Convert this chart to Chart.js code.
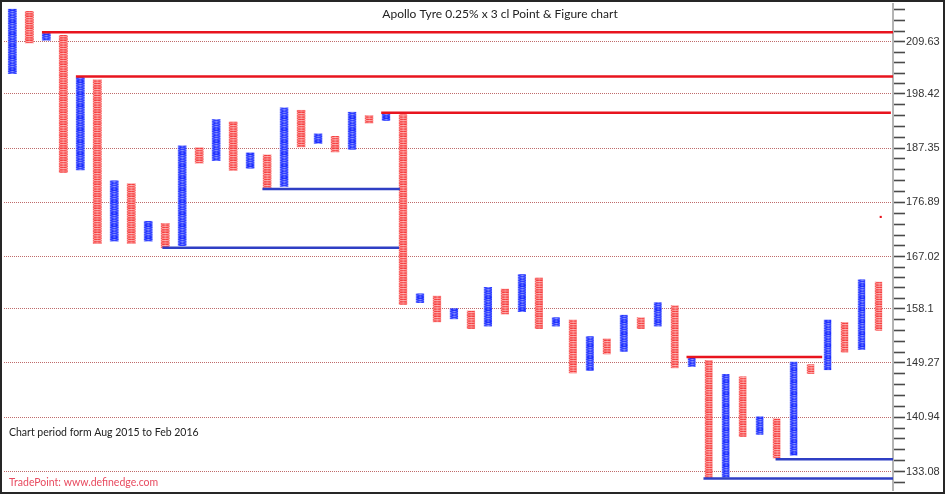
<!DOCTYPE html>
<html>
<head>
<meta charset="utf-8">
<script src="https://cdn.jsdelivr.net/npm/chart.js@4.4.1/dist/chart.umd.min.js"></script>
<style>
html,body{margin:0;padding:0;background:#fff;}
#wrap{position:relative;width:945px;height:494px;}
</style>
</head>
<body>
<div id="wrap"><canvas id="c" width="945" height="494"></canvas></div>
<script>
// ---- data ----
const titleText = 'Apollo Tyre 0.25% x 3 cl Point & Figure chart';
const periodText = 'Chart period form Aug 2015 to Feb 2016';
const sourceText = 'TradePoint: www.definedge.com';

// column kinds alternate, starting with an X column
const columnKind = ['X','O','X','O','X','O','X','O','X','O','X','O','X','O','X','O','X','O','X','O',
                    'X','O','X','O','X','O','X','O','X','O','X','O','X','O','X','O','X','O','X','O',
                    'X','O','X','O','X','O','X','O','X','O','X','O'];
const columnHigh = [217.0, 216.5, 211.5, 211.1, 201.9, 201.4, 181.0, 180.4, 173.4, 173.0,
                    187.8, 187.4, 193.1, 192.6, 186.4, 186.0, 195.5, 195.0, 190.2, 189.7,
                    194.6, 193.9, 194.4, 194.1, 160.6, 160.2, 158.1, 157.7, 161.7, 161.4,
                    163.9, 163.3, 156.6, 156.2, 153.5, 153.1, 157.0, 156.6, 159.1, 158.6,
                    150.3, 149.7, 147.5, 147.1, 141.0, 140.7, 149.4, 149.0, 156.2, 155.8,
                    163.0, 162.6];
const columnLow  = [202.7, 209.4, 210.0, 182.6, 183.1, 169.4, 169.8, 169.4, 169.8, 168.6,
                    169.0, 184.4, 184.9, 183.0, 183.4, 179.3, 179.9, 187.6, 188.3, 186.6,
                    187.1, 192.4, 192.9, 158.8, 159.1, 155.9, 156.4, 154.8, 155.2, 157.2,
                    157.6, 154.8, 155.2, 147.7, 148.1, 150.7, 151.1, 154.8, 155.2, 148.5,
                    148.7, 132.1, 132.3, 138.1, 138.4, 135.0, 135.4, 147.6, 148.2, 151.0,
                    151.4, 154.5];

// trend lines: R = resistance (red), S = support (blue)
const lineKind  = ['R', 'R', 'R', 'S', 'S', 'R', 'S', 'S'];
const lineStart = [1.75, 3.75, 21.75, 14.75, 8.85, 39.75, 45.0, 40.75];
const lineEnd   = [53, 53, 51.8, 22.85, 22.8, 47.75, 53, 53];
const linePrice = [211.8, 202.1, 194.5, 179.4, 168.6, 150.2, 134.8, 132.1];

// current price marker
const lastPoint = [{x: 51.2, y: 174.2}];

const tickLabels = ['133.08', '140.94', '149.27', '158.1', '167.02', '176.89', '187.35', '198.42', '209.63'];
const tickValues = tickLabels.map(Number);

// ---- styling ----
const RED = '#e8141e', BLUE = '#2f3fc4';
const canvas = document.getElementById('c');
const ctx0 = canvas.getContext('2d');

function makePattern(kind) {
  const t = document.createElement('canvas');
  t.width = 17; t.height = 12;
  const g = t.getContext('2d');
  const cx = 8.5, hw = 4.3, bh = 2.4;
  for (let k = 0; k < 5; k++) {
    const y0 = k * bh, y1 = y0 + bh;
    if (kind === 'X') {
      g.fillStyle = 'rgba(190,196,255,0.9)';
      g.fillRect(cx - hw, y0, hw * 2, bh);
      g.strokeStyle = '#1426ff';
      g.lineWidth = 1.15;
      g.beginPath();
      g.moveTo(cx - hw, y0); g.lineTo(cx + hw, y1);
      g.moveTo(cx + hw, y0); g.lineTo(cx - hw, y1);
      g.stroke();
    } else {
      g.fillStyle = '#ffd4d4';
      g.strokeStyle = '#f41818';
      g.lineWidth = 1;
      g.beginPath();
      g.ellipse(cx, y0 + bh / 2, hw, bh / 2, 0, 0, Math.PI * 2);
      g.fill(); g.stroke();
    }
  }
  return ctx0.createPattern(t, 'repeat');
}
const patX = makePattern('X');
const patO = makePattern('O');

const xMin = -0.488, xMax = xMin + 891 / 17;
const yMin = 130.5, yMax = 218.2;

// minor tick marks between labelled levels
function buildTicks() {
  const out = [];
  const r = tickValues[1] / tickValues[0];
  for (let i = 1; i <= 4; i++) {
    const v = tickValues[0] / Math.pow(r, i / 5);
    if (v >= yMin) out.push(v);
  }
  for (let j = 0; j < tickValues.length; j++) {
    out.push(tickValues[j]);
    const a = tickValues[j];
    const b = j + 1 < tickValues.length ? tickValues[j + 1] : a * r;
    for (let i = 1; i <= 4; i++) {
      const v = a * Math.pow(b / a, i / 5);
      if (v <= yMax) out.push(v);
    }
  }
  return out.sort((p, q) => p - q).map(v => ({value: v}));
}
const majorSet = new Set(tickValues);

const datasets = [];
datasets.push({
  type: 'bar',
  data: columnKind.map((k, i) => k === 'X' ? {x: i, y: [columnLow[i], columnHigh[i]]} : null).filter(Boolean),
  backgroundColor: patX, borderWidth: 0, barThickness: 9, grouped: false, order: 2
});
datasets.push({
  type: 'bar',
  data: columnKind.map((k, i) => k === 'O' ? {x: i, y: [columnLow[i], columnHigh[i]]} : null).filter(Boolean),
  backgroundColor: patO, borderWidth: 0, barThickness: 9, grouped: false, order: 2
});
lineKind.forEach((k, i) => {
  datasets.push({
    type: 'line',
    data: [{x: lineStart[i], y: linePrice[i]}, {x: lineEnd[i], y: linePrice[i]}],
    borderColor: k === 'R' ? RED : BLUE,
    borderWidth: 2.5, pointRadius: 0, fill: false, order: 1
  });
});
datasets.push({
  type: 'line', data: lastPoint, showLine: false,
  pointStyle: 'rect', pointRadius: 1.5, backgroundColor: RED, borderWidth: 0, order: 0
});

const patternPhase = {
  id: 'patternPhase',
  beforeDatasetsDraw(chart) {
    const x0 = chart.scales.x.getPixelForValue(0);
    const y0 = chart.scales.y.getPixelForValue(columnHigh[0]);
    const m = new DOMMatrix([1, 0, 0, 1, x0 - 8.5, y0]);
    patX.setTransform(m);
    patO.setTransform(m);
  }
};

const texts = {
  id: 'texts',
  afterDraw(chart) {
    const c = chart.ctx;
    c.save();
    c.textBaseline = 'middle';
    c.fillStyle = '#222';
    c.font = '12px Lato';
    c.textAlign = 'center';
    c.fillText(titleText, 500, 14);
    c.textAlign = 'left';
    c.font = '10.5px Lato';
    c.fillText(periodText, 9, 433);
    c.fillStyle = '#e84a5f';
    c.fillText(sourceText, 9, 483);
    // outer frame
    c.strokeStyle = '#262626';
    c.lineWidth = 2;
    c.strokeRect(1, 1, 943, 492);
    c.restore();
  }
};

new Chart(canvas, {
  type: 'bar',
  data: {datasets},
  options: {
    responsive: false,
    animation: false,
    events: [],
    layout: {padding: {left: 2, top: -1, bottom: 0, right: 0}},
    plugins: {legend: {display: false}, tooltip: {enabled: false}, title: {display: false}},
    scales: {
      x: {type: 'linear', min: xMin, max: xMax, offset: false, display: false},
      y: {
        type: 'logarithmic', position: 'right', min: yMin, max: yMax, bounds: 'data',
        afterBuildTicks: s => { s.ticks = buildTicks(); },
        afterFit: s => { s.width = 52; s.paddingTop = 0; s.paddingBottom = 0; },
        grid: {
          color: c => (c.tick && majorSet.has(c.tick.value)) ? 'rgba(175,70,70,0.8)' : 'rgba(0,0,0,0)',
          lineWidth: 1, drawTicks: true, tickLength: 12, tickWidth: 1.6, tickColor: '#4a4a4a'
        },
        border: {display: true, color: '#b4b4b4', width: 2, dash: [1, 1]},
        ticks: {
          autoSkip: false, maxRotation: 0, padding: 1,
          color: '#333', font: {family: 'Liberation Sans', size: 11},
          callback: v => majorSet.has(v) ? tickLabels[tickValues.indexOf(v)] : ''
        }
      }
    }
  },
  plugins: [patternPhase, texts]
});
</script>
</body>
</html>
